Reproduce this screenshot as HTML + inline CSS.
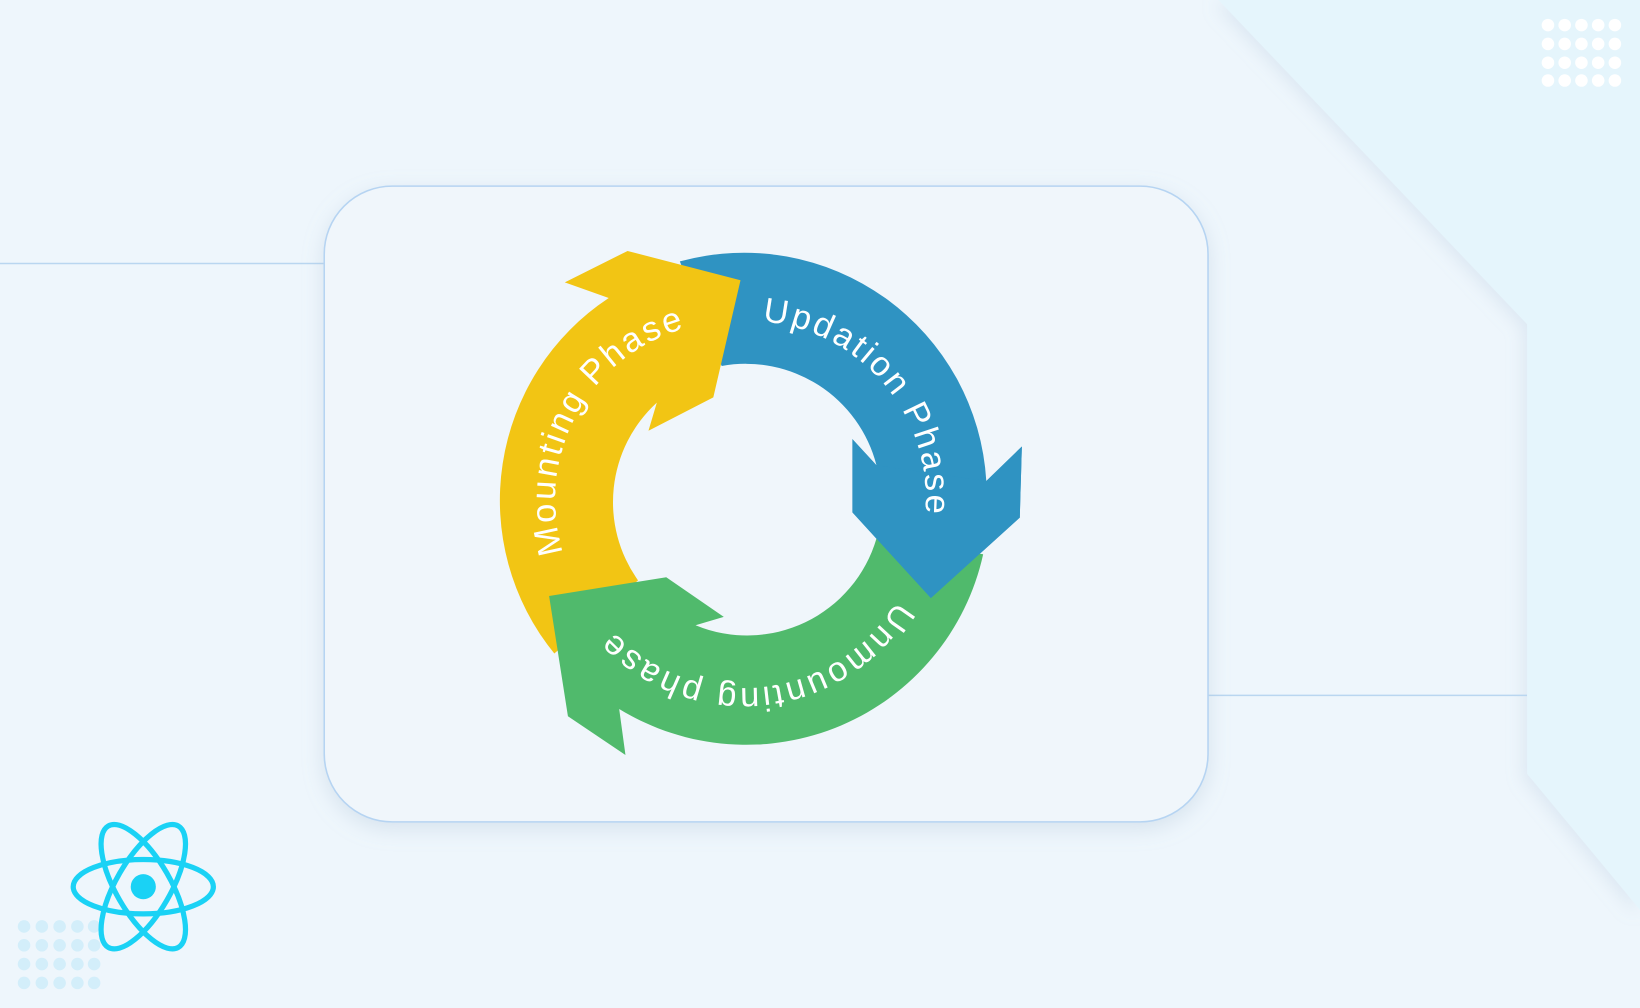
<!DOCTYPE html>
<html><head><meta charset="utf-8"><style>
html,body{margin:0;padding:0;background:#eef6fc;}
svg{display:block;}
</style></head><body>
<svg width="1640" height="1008" viewBox="0 0 1568 964" preserveAspectRatio="none" xmlns="http://www.w3.org/2000/svg">
<defs>
<filter id="sh" x="-10%" y="-10%" width="120%" height="120%"><feDropShadow dx="0" dy="6" stdDeviation="10" flood-color="#9fb5cc" flood-opacity="0.3"/></filter>
<filter id="sh2" x="-10%" y="-10%" width="120%" height="120%"><feDropShadow dx="-4" dy="4" stdDeviation="8" flood-color="#a8bfd6" flood-opacity="0.25"/></filter>
<path id="pm" d="M552,560 A170,170 0 0 1 690,308"/>
<path id="pu" d="M712,307 A170,170 0 0 1 882,510"/>
<path id="pn" d="M865,560 A170,170 0 0 1 575,590"/>
</defs>
<rect width="1568" height="964" fill="#eef6fc"/>
<polygon points="1165,0 1568,0 1568,870 1460,740 1460,310" fill="#e5f5fc" filter="url(#sh2)"/>
<line x1="0" y1="252" x2="310" y2="252" stroke="#b9d6f0" stroke-width="1.5"/>
<line x1="1155" y1="665" x2="1460" y2="665" stroke="#b9d6f0" stroke-width="1.5"/>
<rect x="310" y="178" width="845" height="608" rx="65" fill="#f0f6fb" stroke="#b6d4f2" stroke-width="1.5" filter="url(#sh)"/>
<path d="M650,250 A232,232 0 0 1 943,460 L977,427 L975,495 L890,572 L815,490 L815,420 L838,445 A129,129 0 0 0 690,350 Z" fill="#2f93c2"/>
<path d="M530,625 A232,232 0 0 1 582,285 L540,270 L600,240 L708,268 L682,380 L620,412 L628,385 A129,129 0 0 0 610,555 Z" fill="#f2c514"/>
<path d="M940,530 A232,232 0 0 1 592,678 L598,722 L543,685 L525,570 L637,552 L692,590 L665,598 A129,129 0 0 0 838,515 Z" fill="#50ba6c"/>
<path d="M943,460 L977,427 L975,495 L890,572 L815,490 L815,420 L838,445 Z" fill="#2f93c2"/>
<g font-family="Liberation Sans, sans-serif" font-size="33" fill="#fff" letter-spacing="2.5">
<text><textPath href="#pm" startOffset="50%" text-anchor="middle">Mounting Phase</textPath></text>
<text><textPath href="#pu" startOffset="50%" text-anchor="middle">Updation Phase</textPath></text>
<text><textPath href="#pn" startOffset="50%" text-anchor="middle">Unmounting phase</textPath></text>
</g>
<g fill="#ffffff">
<circle cx="1480" cy="24" r="6"/><circle cx="1496" cy="24" r="6"/><circle cx="1512" cy="24" r="6"/><circle cx="1528" cy="24" r="6"/><circle cx="1544" cy="24" r="6"/>
<circle cx="1480" cy="42" r="6"/><circle cx="1496" cy="42" r="6"/><circle cx="1512" cy="42" r="6"/><circle cx="1528" cy="42" r="6"/><circle cx="1544" cy="42" r="6"/>
<circle cx="1480" cy="60" r="6"/><circle cx="1496" cy="60" r="6"/><circle cx="1512" cy="60" r="6"/><circle cx="1528" cy="60" r="6"/><circle cx="1544" cy="60" r="6"/>
<circle cx="1480" cy="77" r="6"/><circle cx="1496" cy="77" r="6"/><circle cx="1512" cy="77" r="6"/><circle cx="1528" cy="77" r="6"/><circle cx="1544" cy="77" r="6"/>
</g>
<g fill="#d3eefa">
<circle cx="23" cy="886" r="6"/><circle cx="40" cy="886" r="6"/><circle cx="57" cy="886" r="6"/><circle cx="74" cy="886" r="6"/><circle cx="90" cy="886" r="6"/>
<circle cx="23" cy="904" r="6"/><circle cx="40" cy="904" r="6"/><circle cx="57" cy="904" r="6"/><circle cx="74" cy="904" r="6"/><circle cx="90" cy="904" r="6"/>
<circle cx="23" cy="922" r="6"/><circle cx="40" cy="922" r="6"/><circle cx="57" cy="922" r="6"/><circle cx="74" cy="922" r="6"/><circle cx="90" cy="922" r="6"/>
<circle cx="23" cy="940" r="6"/><circle cx="40" cy="940" r="6"/><circle cx="57" cy="940" r="6"/><circle cx="74" cy="940" r="6"/><circle cx="90" cy="940" r="6"/>
</g>
<g fill="none" stroke="#1ad2f5" stroke-width="5">
<ellipse cx="137" cy="848" rx="67" ry="26"/>
<ellipse cx="137" cy="848" rx="67" ry="26" transform="rotate(60 137 848)"/>
<ellipse cx="137" cy="848" rx="67" ry="26" transform="rotate(-60 137 848)"/>
</g>
<circle cx="137" cy="848" r="12" fill="#1ad2f5"/>
</svg>
</body></html>
